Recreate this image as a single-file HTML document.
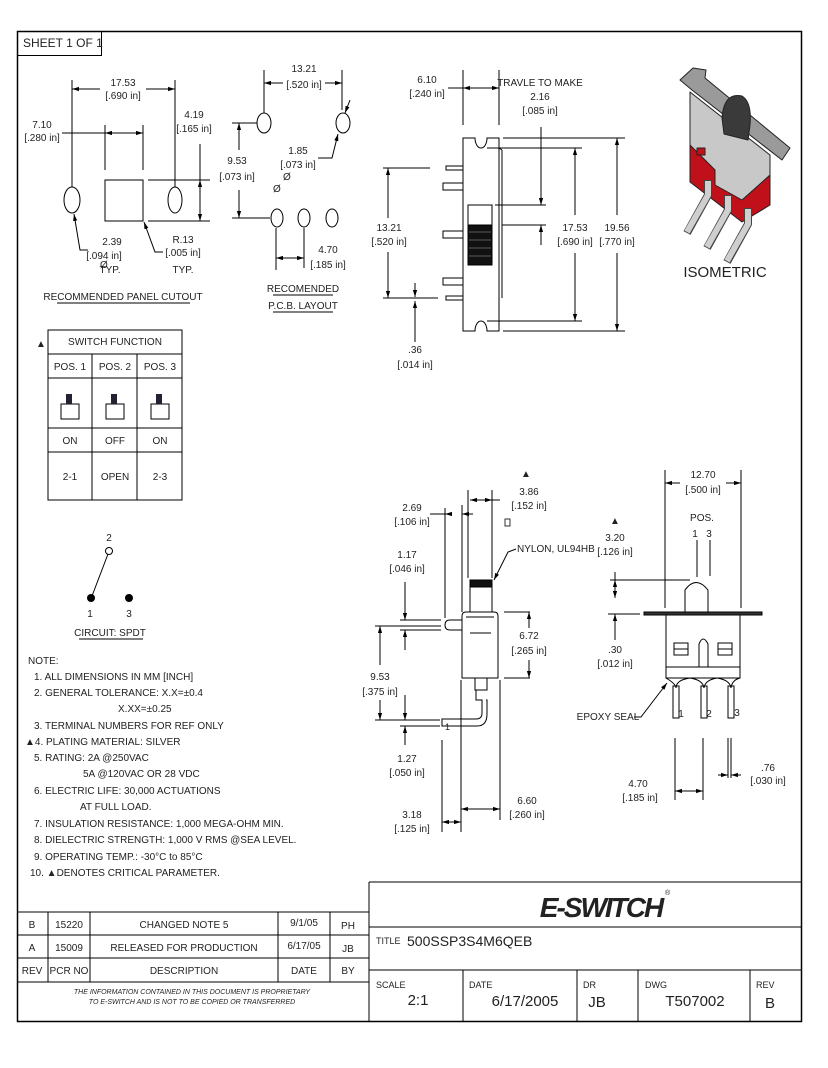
<!DOCTYPE html>
<html><head><meta charset="utf-8"><style>
html,body{margin:0;padding:0;background:#fff;}
svg{display:block;}
text{font-family:"Liberation Sans",sans-serif;font-size:10px;fill:#222;}
.c{text-anchor:middle;}
</style></head><body>
<svg width="828" height="1068" viewBox="0 0 828 1068" xmlns="http://www.w3.org/2000/svg">
<defs>
<marker id="a" viewBox="0 0 10 10" refX="10" refY="5" markerWidth="7" markerHeight="7" orient="auto-start-reverse"><path d="M0,2 L10,5 L0,8z" fill="#000"/></marker>
</defs>
<g fill="none" stroke="#000" stroke-width="1">
<rect x="17.5" y="31.5" width="784" height="990" stroke-width="1.5"/>
<rect x="17.5" y="31.5" width="84" height="24"/>

<!-- panel cutout -->
<ellipse cx="72" cy="200" rx="8" ry="13"/>
<ellipse cx="175" cy="200" rx="7" ry="13"/>
<rect x="105" y="180" width="38" height="41"/>
<line x1="72" y1="80" x2="72" y2="187"/><line x1="175" y1="80" x2="175" y2="187"/>
<line x1="72" y1="89" x2="100" y2="89" marker-start="url(#a)"/><line x1="146" y1="89" x2="175" y2="89" marker-end="url(#a)"/>
<line x1="105" y1="125" x2="105" y2="170"/><line x1="143" y1="125" x2="143" y2="170"/>
<line x1="62" y1="133" x2="105" y2="133"/><line x1="105" y1="133" x2="143" y2="133" marker-start="url(#a)" marker-end="url(#a)"/>
<line x1="148" y1="180" x2="210" y2="180"/><line x1="148" y1="221" x2="210" y2="221"/>
<line x1="200" y1="144" x2="200" y2="180"/><line x1="200" y1="180" x2="200" y2="221" marker-start="url(#a)" marker-end="url(#a)"/>
<polyline points="88,250 80,250 74,214" marker-end="url(#a)"/>
<polyline points="163,252 155,252 144,222" marker-end="url(#a)"/>
<line x1="57" y1="303" x2="190" y2="303"/>

<!-- PCB -->
<ellipse cx="264" cy="123" rx="7" ry="10"/><ellipse cx="343" cy="123" rx="7" ry="10"/>
<ellipse cx="277" cy="218" rx="6" ry="9"/><ellipse cx="304" cy="218" rx="6" ry="9"/><ellipse cx="332" cy="218" rx="6" ry="9"/>
<line x1="264" y1="70" x2="264" y2="113"/><line x1="342" y1="70" x2="342" y2="110"/>
<line x1="264" y1="83" x2="283" y2="83" marker-start="url(#a)"/><line x1="325" y1="83" x2="342" y2="83" marker-end="url(#a)"/>
<line x1="350" y1="100" x2="345" y2="113" marker-end="url(#a)"/>
<polyline points="318,158 332,158 338,134" marker-end="url(#a)"/>
<line x1="232" y1="123" x2="257" y2="123"/><line x1="232" y1="218" x2="270" y2="218"/>
<line x1="239" y1="123" x2="239" y2="150" marker-start="url(#a)"/><line x1="239" y1="190" x2="239" y2="218" marker-end="url(#a)"/>
<line x1="276" y1="228" x2="276" y2="270"/><line x1="304" y1="228" x2="304" y2="268"/>
<line x1="276" y1="258" x2="304" y2="258" marker-start="url(#a)" marker-end="url(#a)"/>
<line x1="273" y1="295" x2="333" y2="295"/><line x1="273" y1="312" x2="333" y2="312"/>

<!-- side view top -->
<path d="M463,138 H475 A6,10 0 0 0 487,138 H499 V331 H487 A6,10 0 0 0 475,331 H463 Z"/>
<line x1="487" y1="148" x2="499" y2="148"/><line x1="487" y1="321" x2="499" y2="321"/>
<line x1="499" y1="148" x2="502" y2="150"/><line x1="502" y1="150" x2="502" y2="298"/>
<rect x="468" y="205" width="24" height="60"/>
<rect x="468" y="225" width="24" height="40" fill="#111"/>
<g stroke="#777" stroke-width=".7"><line x1="469" y1="232" x2="491" y2="232"/><line x1="469" y1="240" x2="491" y2="240"/><line x1="469" y1="248" x2="491" y2="248"/><line x1="469" y1="256" x2="491" y2="256"/></g>
<rect x="446" y="166" width="17" height="4"/><rect x="443" y="183" width="20" height="7"/><rect x="443" y="231" width="20" height="7"/><rect x="443" y="278" width="20" height="7"/><rect x="446" y="296" width="17" height="4"/>
<line x1="463" y1="70" x2="463" y2="125"/><line x1="499" y1="70" x2="499" y2="125"/>
<line x1="463" y1="88" x2="499" y2="88" marker-start="url(#a)" marker-end="url(#a)"/>
<line x1="448" y1="88" x2="463" y2="88"/>
<line x1="541" y1="127" x2="541" y2="205" marker-end="url(#a)"/>
<line x1="541" y1="245" x2="541" y2="225" marker-end="url(#a)"/>
<line x1="495" y1="205" x2="546" y2="205"/><line x1="502" y1="225" x2="546" y2="225"/>
<line x1="503" y1="138" x2="625" y2="138"/><line x1="503" y1="331" x2="625" y2="331"/>
<line x1="490" y1="148" x2="582" y2="148"/><line x1="490" y1="321" x2="582" y2="321"/>
<line x1="575" y1="148" x2="575" y2="215" marker-start="url(#a)"/><line x1="575" y1="253" x2="575" y2="321" marker-end="url(#a)"/>
<line x1="617" y1="138" x2="617" y2="215" marker-start="url(#a)"/><line x1="617" y1="253" x2="617" y2="331" marker-end="url(#a)"/>
<line x1="383" y1="168" x2="430" y2="168"/><line x1="383" y1="298" x2="438" y2="298"/>
<line x1="388" y1="168" x2="388" y2="218" marker-start="url(#a)"/><line x1="388" y1="252" x2="388" y2="298" marker-end="url(#a)"/>
<line x1="415" y1="283" x2="415" y2="297" marker-end="url(#a)"/><line x1="415" y1="342" x2="415" y2="301" marker-end="url(#a)"/>

<!-- switch function table -->
<rect x="48" y="330" width="134" height="170"/>
<line x1="48" y1="354" x2="182" y2="354"/><line x1="48" y1="378" x2="182" y2="378"/><line x1="48" y1="428" x2="182" y2="428"/><line x1="48" y1="452" x2="182" y2="452"/>
<line x1="92" y1="354" x2="92" y2="500"/><line x1="137" y1="354" x2="137" y2="500"/>
<rect x="61" y="404" width="18" height="15"/><rect x="106" y="404" width="18" height="15"/><rect x="151" y="404" width="18" height="15"/>

<!-- circuit -->
<circle cx="109" cy="551" r="3.5"/>
<line x1="92" y1="596" x2="108" y2="554"/>
<line x1="79" y1="639" x2="143" y2="639"/>

<!-- lower side view -->
<path d="M462,678 V616 Q462,612 466,612 H494 Q498,612 498,616 V678 Z"/>
<line x1="466" y1="617" x2="494" y2="617"/><line x1="470" y1="633" x2="491" y2="633"/>
<rect x="470" y="580" width="22" height="32"/>
<rect x="470" y="580" width="22" height="7" fill="#111"/>
<path d="M462,620 H450 Q445,620 445,625 Q445,630 450,630 H462"/>
<path d="M475,678 V690 H487 V678"/>
<path d="M476,690 V700 H482 V713 Q482,719 476,719 H442 V726 H477 Q487,726 487,714 V700 H486"/>
<line x1="445" y1="508" x2="445" y2="618"/><line x1="462" y1="505" x2="462" y2="612"/>
<line x1="468" y1="490" x2="468" y2="578"/><line x1="492" y1="490" x2="492" y2="578"/>
<line x1="449" y1="514" x2="445" y2="514" marker-end="url(#a)"/><line x1="430" y1="514" x2="445" y2="514"/>
<line x1="462" y1="514" x2="473" y2="514" marker-start="url(#a)"/>
<line x1="470" y1="500" x2="492" y2="500" marker-start="url(#a)" marker-end="url(#a)"/>
<line x1="492" y1="500" x2="500" y2="500"/>
<polyline points="516,549 508,552 494,580" marker-end="url(#a)"/>
<line x1="405" y1="582" x2="405" y2="620" marker-end="url(#a)"/><line x1="405" y1="650" x2="405" y2="630" marker-end="url(#a)"/>
<line x1="400" y1="620" x2="441" y2="620"/><line x1="400" y1="630" x2="441" y2="630"/>
<line x1="375" y1="626" x2="441" y2="626"/>
<line x1="380" y1="626" x2="380" y2="665" marker-start="url(#a)"/><line x1="380" y1="700" x2="380" y2="720" marker-end="url(#a)"/>
<line x1="375" y1="720" x2="440" y2="720"/><line x1="400" y1="726" x2="440" y2="726"/>
<line x1="405" y1="695" x2="405" y2="720" marker-end="url(#a)"/><line x1="405" y1="745" x2="405" y2="726" marker-end="url(#a)"/>
<line x1="504" y1="612" x2="530" y2="612"/><line x1="504" y1="678" x2="530" y2="678"/>
<line x1="529" y1="612" x2="529" y2="628" marker-start="url(#a)"/><line x1="529" y1="660" x2="529" y2="678" marker-end="url(#a)"/>
<line x1="442" y1="740" x2="442" y2="832"/><line x1="461" y1="680" x2="461" y2="832"/><line x1="500" y1="680" x2="500" y2="820"/>
<line x1="442" y1="822" x2="461" y2="822" marker-start="url(#a)" marker-end="url(#a)"/>
<line x1="461" y1="809" x2="500" y2="809" marker-start="url(#a)" marker-end="url(#a)"/>

<!-- front view -->
<rect x="644" y="612" width="118" height="3" fill="#333"/>
<rect x="666" y="615" width="74" height="63"/>
<line x1="666" y1="667" x2="740" y2="667"/>
<path d="M685,612 V590 Q696,575 708,590 V612"/>
<rect x="674" y="643" width="14" height="12"/><rect x="718" y="643" width="14" height="12"/>
<line x1="674" y1="649" x2="688" y2="649"/><line x1="718" y1="649" x2="732" y2="649"/>
<path d="M699,667 V644 Q703,634 708,644 V667"/>
<path d="M666,678 Q676,684 676,688 Q676,680 690,678 Q703,680 704,688 Q705,680 717,678 Q730,680 731,688 Q732,680 740,678"/>
<rect x="673" y="686" width="6" height="32"/><rect x="701" y="686" width="6" height="32"/><rect x="728" y="686" width="6" height="32"/>
<line x1="665" y1="470" x2="665" y2="608"/><line x1="741" y1="470" x2="741" y2="608"/>
<line x1="665" y1="483" x2="680" y2="483" marker-start="url(#a)"/><line x1="726" y1="483" x2="741" y2="483" marker-end="url(#a)"/>
<line x1="697" y1="540" x2="697" y2="577"/><line x1="710" y1="540" x2="710" y2="576"/>
<line x1="610" y1="580" x2="690" y2="580"/><line x1="608" y1="614" x2="640" y2="614"/>
<line x1="615" y1="572" x2="615" y2="598" marker-end="url(#a)"/><line x1="615" y1="598" x2="615" y2="580" marker-end="url(#a)"/>
<line x1="615" y1="640" x2="615" y2="614" marker-end="url(#a)"/>
<polyline points="634,717 641,717 667,683" marker-end="url(#a)"/>
<line x1="675" y1="738" x2="675" y2="800"/><line x1="703" y1="738" x2="703" y2="800"/>
<line x1="675" y1="791" x2="703" y2="791" marker-start="url(#a)" marker-end="url(#a)"/>
<line x1="728" y1="738" x2="728" y2="778"/><line x1="731" y1="738" x2="731" y2="778"/>
<line x1="718" y1="775" x2="728" y2="775" marker-end="url(#a)"/><line x1="741" y1="775" x2="731" y2="775" marker-end="url(#a)"/>

<!-- title block -->
<line x1="369" y1="882" x2="369" y2="1021"/>
<line x1="369" y1="882" x2="801" y2="882"/>
<line x1="369" y1="927" x2="801" y2="927"/>
<line x1="369" y1="970" x2="801" y2="970"/>
<line x1="463" y1="970" x2="463" y2="1021"/><line x1="577" y1="970" x2="577" y2="1021"/><line x1="638" y1="970" x2="638" y2="1021"/><line x1="750" y1="970" x2="750" y2="1021"/>
<line x1="17" y1="912" x2="369" y2="912"/><line x1="17" y1="935" x2="369" y2="935"/><line x1="17" y1="958" x2="369" y2="958"/><line x1="17" y1="982" x2="369" y2="982"/>
<line x1="48" y1="912" x2="48" y2="982"/><line x1="90" y1="912" x2="90" y2="982"/><line x1="278" y1="912" x2="278" y2="982"/><line x1="330" y1="912" x2="330" y2="982"/>
</g>

<!-- switch knobs -->
<rect x="66" y="394" width="6" height="10" fill="#223"/><rect x="111" y="394" width="6" height="10" fill="#223"/><rect x="156" y="394" width="6" height="10" fill="#223"/>
<circle cx="91" cy="598" r="4" fill="#000"/><circle cx="129" cy="598" r="4" fill="#000"/>

<!-- isometric -->
<g stroke="#222" stroke-width="1" stroke-linejoin="round">
<polygon points="690,92 770,155 770,185 742,215 690,172" fill="#c8c8c8"/>
<polygon points="690,145 715,170 715,185 742,200 770,175 770,205 742,222 690,182" fill="#c0111a"/>
<rect x="697" y="148" width="8" height="7" fill="#c0111a"/>
<polygon points="680,80 693,68 706,70 705,78 790,148 782,160 692,90" fill="#9a9a9a"/>
<path d="M722,118 Q724,92 742,96 Q752,102 750,125 L748,140 L724,134 Z" fill="#3a3a3a"/>
<g fill="none" stroke="#444" stroke-width="8" stroke-linecap="butt">
<polyline points="708,180 708,195 687,233"/><polyline points="728,195 728,210 707,248"/><polyline points="748,208 748,224 727,262"/>
</g>
<g fill="none" stroke="#cfcfcf" stroke-width="6" stroke-linecap="butt">
<polyline points="708,181 708,195 687,232"/><polyline points="728,196 728,210 707,247"/><polyline points="748,209 748,224 727,261"/>
</g>
</g>
<text x="725" y="277" class="c" style="font-size:15px">ISOMETRIC</text>

<!-- texts -->
<text x="23" y="47" style="font-size:12px">SHEET 1 OF 1</text>
<text x="123" y="86" class="c">17.53</text><text x="123" y="99" class="c">[.690 in]</text>
<text x="42" y="128" class="c">7.10</text><text x="42" y="141" class="c">[.280 in]</text>
<text x="194" y="118" class="c">4.19</text><text x="194" y="132" class="c">[.165 in]</text>
<text x="112" y="245" class="c">2.39</text><text x="104" y="259" class="c">[.094 in]</text><text x="100" y="268">Ø</text><text x="110" y="273" class="c">TYP.</text>
<text x="183" y="243" class="c">R.13</text><text x="183" y="256" class="c">[.005 in]</text><text x="183" y="273" class="c">TYP.</text>
<text x="123" y="300" class="c">RECOMMENDED PANEL CUTOUT</text>
<text x="304" y="72" class="c">13.21</text><text x="304" y="88" class="c">[.520 in]</text>
<text x="298" y="154" class="c">1.85</text><text x="298" y="168" class="c">[.073 in]</text><text x="283" y="180">Ø</text><text x="273" y="192">Ø</text>
<text x="237" y="164" class="c">9.53</text><text x="237" y="180" class="c">[.073 in]</text>
<text x="328" y="253" class="c">4.70</text><text x="328" y="268" class="c">[.185 in]</text>
<text x="303" y="292" class="c">RECOMENDED</text><text x="303" y="309" class="c">P.C.B. LAYOUT</text>
<text x="427" y="83" class="c">6.10</text><text x="427" y="97" class="c">[.240 in]</text>
<text x="540" y="86" class="c">TRAVLE TO MAKE</text><text x="540" y="100" class="c">2.16</text><text x="540" y="114" class="c">[.085 in]</text>
<text x="575" y="231" class="c">17.53</text><text x="575" y="245" class="c">[.690 in]</text>
<text x="617" y="231" class="c">19.56</text><text x="617" y="245" class="c">[.770 in]</text>
<text x="389" y="231" class="c">13.21</text><text x="389" y="245" class="c">[.520 in]</text>
<text x="415" y="353" class="c">.36</text><text x="415" y="368" class="c">[.014 in]</text>

<text x="41" y="347" class="c">▲</text>
<text x="115" y="345" class="c">SWITCH FUNCTION</text>
<text x="70" y="370" class="c">POS. 1</text><text x="115" y="370" class="c">POS. 2</text><text x="160" y="370" class="c">POS. 3</text>
<text x="70" y="444" class="c">ON</text><text x="115" y="444" class="c">OFF</text><text x="160" y="444" class="c">ON</text>
<text x="70" y="480" class="c">2-1</text><text x="115" y="480" class="c">OPEN</text><text x="160" y="480" class="c">2-3</text>
<text x="109" y="541" class="c">2</text><text x="90" y="617" class="c">1</text><text x="129" y="617" class="c">3</text>
<text x="110" y="636" class="c">CIRCUIT: SPDT</text>

<g>
<text x="28" y="664">NOTE:</text>
<text x="34" y="680">1. ALL DIMENSIONS IN MM [INCH]</text>
<text x="34" y="696">2. GENERAL TOLERANCE: X.X=±0.4</text>
<text x="118" y="712">X.XX=±0.25</text>
<text x="34" y="729">3. TERMINAL NUMBERS FOR REF ONLY</text>
<text x="25" y="745">▲4. PLATING MATERIAL: SILVER</text>
<text x="34" y="761">5. RATING: 2A @250VAC</text>
<text x="83" y="777">5A @120VAC OR 28 VDC</text>
<text x="34" y="794">6. ELECTRIC LIFE: 30,000 ACTUATIONS</text>
<text x="80" y="810">AT FULL LOAD.</text>
<text x="34" y="827">7. INSULATION RESISTANCE: 1,000 MEGA-OHM MIN.</text>
<text x="34" y="843">8. DIELECTRIC STRENGTH: 1,000 V RMS @SEA LEVEL.</text>
<text x="34" y="860">9. OPERATING TEMP.: -30°C to 85°C</text>
<text x="30" y="876">10. ▲DENOTES CRITICAL PARAMETER.</text>
</g>

<text x="412" y="511" class="c">2.69</text><text x="412" y="525" class="c">[.106 in]</text>
<text x="526" y="477" class="c">▲</text><text x="529" y="495" class="c">3.86</text><text x="529" y="509" class="c">[.152 in]</text>
<rect x="505" y="519" width="5" height="7" fill="none" stroke="#000" stroke-width=".8"/>
<text x="517" y="552">NYLON, UL94HB</text>
<text x="407" y="558" class="c">1.17</text><text x="407" y="572" class="c">[.046 in]</text>
<text x="380" y="680" class="c">9.53</text><text x="380" y="695" class="c">[.375 in]</text>
<text x="529" y="639" class="c">6.72</text><text x="529" y="654" class="c">[.265 in]</text>
<text x="407" y="762" class="c">1.27</text><text x="407" y="776" class="c">[.050 in]</text>
<text x="445" y="730" style="font-size:9px">1</text>
<text x="412" y="818" class="c">3.18</text><text x="412" y="832" class="c">[.125 in]</text>
<text x="527" y="804" class="c">6.60</text><text x="527" y="818" class="c">[.260 in]</text>

<text x="703" y="478" class="c">12.70</text><text x="703" y="493" class="c">[.500 in]</text>
<text x="702" y="521" class="c">POS.</text><text x="695" y="537" class="c">1</text><text x="709" y="537" class="c">3</text>
<text x="615" y="524" class="c">▲</text><text x="615" y="541" class="c">3.20</text><text x="615" y="555" class="c">[.126 in]</text>
<text x="615" y="653" class="c">.30</text><text x="615" y="667" class="c">[.012 in]</text>
<text x="608" y="720" class="c">EPOXY SEAL</text>
<text x="681" y="717" class="c">1</text><text x="709" y="717" class="c">2</text><text x="737" y="716" class="c">3</text>
<text x="638" y="787" class="c">4.70</text><text x="640" y="801" class="c">[.185 in]</text>
<text x="768" y="771" class="c">.76</text><text x="768" y="784" class="c">[.030 in]</text>

<text x="601" y="917" class="c" style="font-size:28px;font-weight:bold;font-style:italic;letter-spacing:-2px">E-SWITCH</text>
<text x="665" y="895" style="font-size:7px">®</text>
<text x="376" y="944" style="font-size:9px">TITLE</text>
<text x="407" y="946" style="font-size:14px">500SSP3S4M6QEB</text>
<text x="376" y="988" style="font-size:9px">SCALE</text><text x="418" y="1005" class="c" style="font-size:15px">2:1</text>
<text x="469" y="988" style="font-size:9px">DATE</text><text x="525" y="1006" class="c" style="font-size:15px">6/17/2005</text>
<text x="583" y="988" style="font-size:9px">DR</text><text x="597" y="1007" class="c" style="font-size:15px">JB</text>
<text x="645" y="988" style="font-size:9px">DWG</text><text x="695" y="1006" class="c" style="font-size:15px">T507002</text>
<text x="756" y="988" style="font-size:9px">REV</text><text x="770" y="1008" class="c" style="font-size:15px">B</text>

<text x="32" y="928" class="c">B</text><text x="69" y="928" class="c">15220</text><text x="184" y="928" class="c">CHANGED NOTE 5</text><text x="304" y="926" class="c">9/1/05</text><text x="348" y="929" class="c">PH</text>
<text x="32" y="951" class="c">A</text><text x="69" y="951" class="c">15009</text><text x="184" y="951" class="c">RELEASED FOR PRODUCTION</text><text x="304" y="949" class="c">6/17/05</text><text x="348" y="952" class="c">JB</text>
<text x="32" y="974" class="c">REV</text><text x="69" y="974" class="c">PCR NO</text><text x="184" y="974" class="c">DESCRIPTION</text><text x="304" y="974" class="c">DATE</text><text x="348" y="974" class="c">BY</text>
<text x="192" y="994" class="c" style="font-size:7px;font-style:italic">THE INFORMATION CONTAINED IN THIS DOCUMENT IS PROPRIETARY</text>
<text x="192" y="1004" class="c" style="font-size:7px;font-style:italic">TO E-SWITCH AND IS NOT TO BE COPIED OR TRANSFERRED</text>
</svg>
</body></html>
